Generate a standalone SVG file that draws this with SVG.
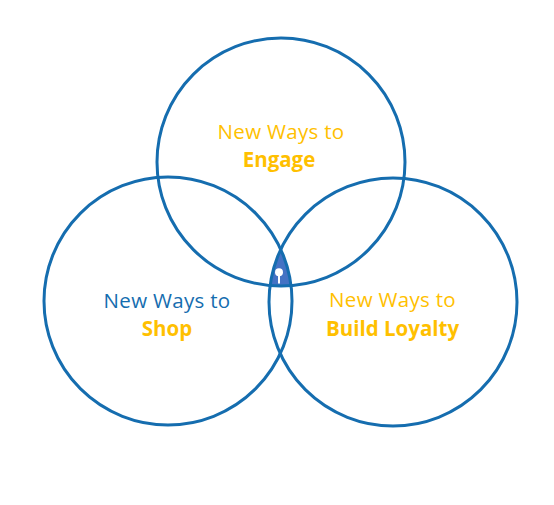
<svg xmlns="http://www.w3.org/2000/svg" width="554" height="505" viewBox="0 0 554 505">
<style>
.ring{fill:none;stroke:#156daf;stroke-width:3}
.t{font-family:"Open Sans","Liberation Sans",sans-serif;font-size:20.5px;letter-spacing:0.3px;text-anchor:middle}
.b{font-weight:bold;letter-spacing:0}
.y{fill:#ffc000}
.bl{fill:#156daf}
</style>
<rect width="554" height="505" fill="#ffffff"/>
<g id="center">
<path d="M280.5 249.3 A124 124 0 0 0 270.1 285.5 A124 124 0 0 0 291 285.6 A124 124 0 0 0 280.5 249.3 Z" fill="#4472c4"/>
<circle cx="279" cy="272.3" r="4" fill="#ffffff"/>
<rect x="278" y="274" width="2" height="9.5" fill="#ffffff"/>
</g>
<g id="engage">
<circle class="ring" cx="281" cy="162" r="124"/>
<text class="t y" x="281" y="139">New Ways to</text>
<text class="t b y" x="279" y="167">Engage</text>
</g>
<g id="shop">
<circle class="ring" cx="168" cy="301" r="124"/>
<text class="t bl" x="167" y="308">New Ways to</text>
<text class="t b y" x="167" y="336">Shop</text>
</g>
<g id="loyalty">
<circle class="ring" cx="393" cy="302" r="124"/>
<text class="t y" x="392.5" y="307">New Ways to</text>
<text class="t b y" x="392.5" y="336">Build Loyalty</text>
</g>
<g id="connectors"></g>
</svg>
